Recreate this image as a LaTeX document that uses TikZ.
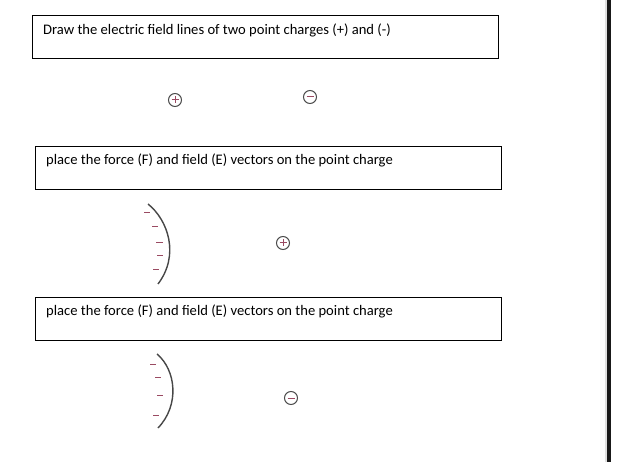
\documentclass[tikz,border=0pt]{standalone}
\usepackage{fontspec}
\setmainfont{Carlito}
\usetikzlibrary{calc}
\begin{document}
\begin{tikzpicture}[x=1pt,y=-1pt,
  qbox/.style={draw=black,line width=0.9pt,minimum width=466pt,minimum height=43pt,inner sep=0pt},
  qtext/.style={anchor=west,inner sep=0pt,font=\fontsize{14.6}{17}\selectfont},
  charge/.style={circle,draw=black!70,line width=1pt,minimum size=13pt,inner sep=0pt},
  sign/.style={draw=signcol,line width=1pt},
  plate/.style={draw=black!72,line width=1.4pt}]
\definecolor{signcol}{HTML}{9A4A62}
\useasboundingbox (0,0) rectangle (618,462);
\fill[white] (0,0) rectangle (618,462);
% right frame bar
\fill[black!12] (605,0) rectangle (607,462);
\fill[black!90] (607,0) rectangle (611,462);
% boxes
\node[qbox] (b1) at (265,36.5) {};
\node[qtext] (t1) at (43,30) {Draw the electric field lines of two point charges (+) and (-)};
\node[qbox] (b2) at (268.5,167.5) {};
\node[qtext] (t2) at (46,160) {place the force (F) and field (E) vectors on the point charge};
\node[qbox] (b3) at (268.5,318.5) {};
\node[qtext] (t3) at (46,311) {place the force (F) and field (E) vectors on the point charge};
% charges
\node[charge] (p1) at (175,100) {};
\draw[sign] ($(p1)+(-3.5,0)$) -- ($(p1)+(3.5,0)$) ($(p1)+(0,-3.5)$) -- ($(p1)+(0,3.5)$);
\node[charge] (n1) at (310,97) {};
\draw[sign] ($(n1)+(-3.5,0)$) -- ($(n1)+(3.5,0)$);
\node[charge] (p2) at (283,243) {};
\draw[sign] ($(p2)+(-3.5,0)$) -- ($(p2)+(3.5,0)$) ($(p2)+(0,-3.5)$) -- ($(p2)+(0,3.5)$);
\node[charge] (n2) at (291,398) {};
\draw[sign] ($(n2)+(-3.5,0)$) -- ($(n2)+(3.5,0)$);
% plate 1
\draw[plate] (148,204) .. controls (168,220) and (180,255) .. (158,284);
\draw[sign] (144,213) -- (150,213) (152,227) -- (158,227) (156,243) -- (163,243) (157,256) -- (163,256) (153,270) -- (159,270);
% plate 2
\draw[plate] (157,354) .. controls (176,370) and (180,405) .. (158,428);
\draw[sign] (150,364) -- (156,364) (155,377) -- (161,377) (157,395) -- (163,395) (153,415) -- (159,415);
\end{tikzpicture}
\end{document}
